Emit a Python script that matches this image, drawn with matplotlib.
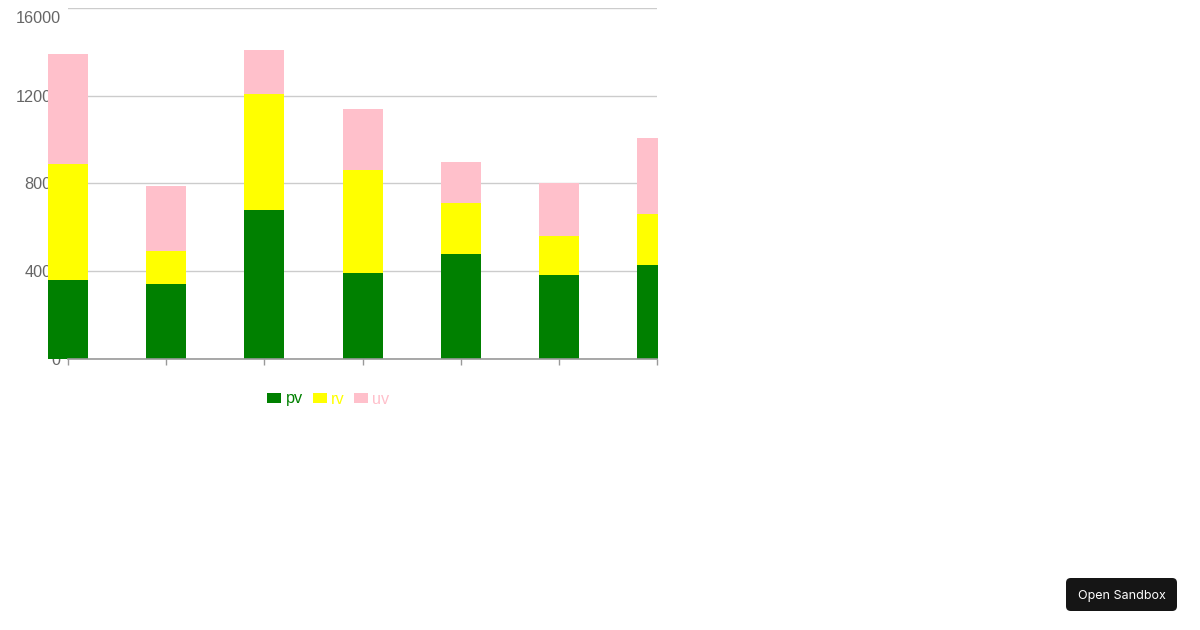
import matplotlib
matplotlib.use("Agg")
import matplotlib.pyplot as plt
from matplotlib.patches import Patch, Rectangle, FancyBboxPatch
from matplotlib.transforms import ScaledTranslation
import numpy as np

plt.rcParams['font.family'] = ['Liberation Sans', 'DejaVu Sans']

# ---- data ----
categories = ['', '', '', '', '', '', '']
pv = [3600, 3400, 6800, 3900, 4800, 3800, 4300]
rv = [5300, 1500, 5300, 4700, 2300, 1800, 2300]
uv = [5000, 3000, 2000, 2800, 1900, 2400, 3500]
series_names = ['pv', 'rv', 'uv']
series_colors = ['#008000', '#ffff00', '#ffc0cb']
y_ticks = [0, 4000, 8000, 12000, 16000]
y_tick_labels = ['0', '4000', '8000', '12000', '16000']

W, H = 1200, 630
fig = plt.figure(figsize=(W / 100, H / 100), dpi=100)
fig.patch.set_facecolor('white')

ax = fig.add_axes([67.7 / W, 1 - 358.7 / H, 589.8 / W, (358.7 - 8.3) / H])
ax.set_axisbelow(True)

x = np.arange(len(categories))
bar_w = 40 / 98.3

clip_rect = Rectangle((0, 0), 658 / W, 1, transform=fig.transFigure)

bottom = np.zeros(len(categories))
for name, vals, col in zip(series_names, [pv, rv, uv], series_colors):
    bars = ax.bar(x, vals, bar_w, bottom=bottom, color=col, edgecolor='none',
                  linewidth=0, zorder=1, label=name)
    for b in bars:
        b.set_clip_on(True)
        b.set_clip_path(clip_rect)
    bottom += np.array(vals)

ax.set_xlim(0, len(categories) - 1)
ax.set_ylim(0, 16000)

ax.set_yticks(y_ticks)
ax.set_yticklabels(y_tick_labels)
ax.set_xticks(x)
ax.set_xticklabels(categories)

ax.yaxis.grid(True, color='#cccccc', linewidth=1)
ax.xaxis.grid(False)

for s in ['left', 'right', 'top']:
    ax.spines[s].set_visible(False)
ax.spines['bottom'].set_color('#999999')
ax.spines['bottom'].set_linewidth(1.2)

ax.tick_params(axis='y', length=0, pad=5.0, labelsize=11.7, labelcolor='#666666')
ax.tick_params(axis='x', length=4.5, width=1, color='#999999', direction='out')

offset = ScaledTranslation(0, -9 / 100, fig.dpi_scale_trans)
for lab in ax.get_yticklabels():
    if lab.get_text() == '16000':
        lab.set_transform(lab.get_transform() + offset)

handles = [Patch(facecolor=c, edgecolor='none') for c in series_colors]
fig.legend(handles, series_names, loc='center',
           bbox_to_anchor=(328.5 / W, 1 - 399 / H), ncol=3, frameon=False,
           fontsize=11.7, labelcolor=series_colors, handlelength=0.86,
           handleheight=0.62, handletextpad=0.25, columnspacing=0.62,
           borderaxespad=0, borderpad=0)

# "Open Sandbox" button
bx0, by0, bw, bh = 1066, 578, 111, 33
btn = FancyBboxPatch((bx0 / W, 1 - (by0 + bh) / H), bw / W, bh / H,
                     boxstyle='round,pad=0,rounding_size=0.004',
                     transform=fig.transFigure, facecolor='#151515',
                     edgecolor='none', mutation_aspect=W / H)
fig.patches.append(btn)
fig.text((bx0 + bw / 2) / W, 1 - (by0 + bh / 2 + 1.5) / H, 'Open Sandbox',
         color='white', fontsize=9.0, ha='center', va='center',
         family=['Inter', 'DejaVu Sans'])

fig.savefig('out.png', dpi=100)
